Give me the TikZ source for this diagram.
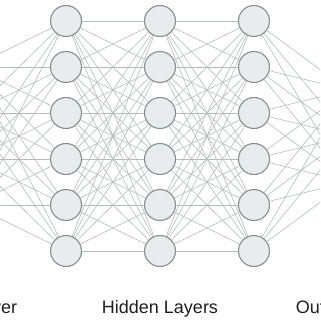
\documentclass[tikz,border=0pt]{standalone}
\usepackage{fontspec}
\setmainfont{Liberation Sans}
\definecolor{nodefill}{HTML}{E9ECEC}
\definecolor{nodeline}{HTML}{848F8F}
\definecolor{edgecol}{HTML}{B4BBBB}
\definecolor{txt}{HTML}{1E1E1E}
\begin{document}
\begin{tikzpicture}[x=1pt,y=-1pt,
  neuron/.style={circle,draw=nodeline,fill=nodefill,line width=1.1pt,minimum size=31pt,inner sep=0pt},
  edge/.style={draw=edgecol,line width=0.6pt},
  lbl/.style={text=txt,font=\fontsize{18}{20}\selectfont,anchor=base,inner sep=0pt}]
\useasboundingbox (0,0) rectangle (320,320);
\clip (0,0) rectangle (320,320);
% input layer (mostly off the left edge)
\foreach \i/\y in {1/67,2/113,3/159,4/205}
  \node[neuron] (i\i) at (-28,\y) {};
% hidden layers
\foreach \i/\y in {1/21,2/67,3/113,4/159,5/205,6/251}{
  \node[neuron] (a\i) at (66,\y) {};
  \node[neuron] (b\i) at (160,\y) {};
  \node[neuron] (c\i) at (254,\y) {};
}
% output layer (off the right edge)
\foreach \i/\y in {1/90,2/136,3/182}
  \node[neuron] (o\i) at (348,\y) {};
% connectors
\foreach \s in {1,...,4}
  \foreach \t in {1,...,6}
    \draw[edge] (i\s) -- (a\t);
\foreach \s in {1,...,6}
  \foreach \t in {1,...,6}{
    \draw[edge] (a\s) -- (b\t);
    \draw[edge] (b\s) -- (c\t);
  }
\foreach \s in {1,...,6}
  \foreach \t in {1,...,3}
    \draw[edge] (c\s) -- (o\t);
% labels
\node[lbl] (tin) at (-28,313) {Input Layer};
\node[lbl] (thid) at (160,313) {Hidden Layers};
\node[lbl] (tout) at (348,313) {Output Layer};
\end{tikzpicture}
\end{document}
